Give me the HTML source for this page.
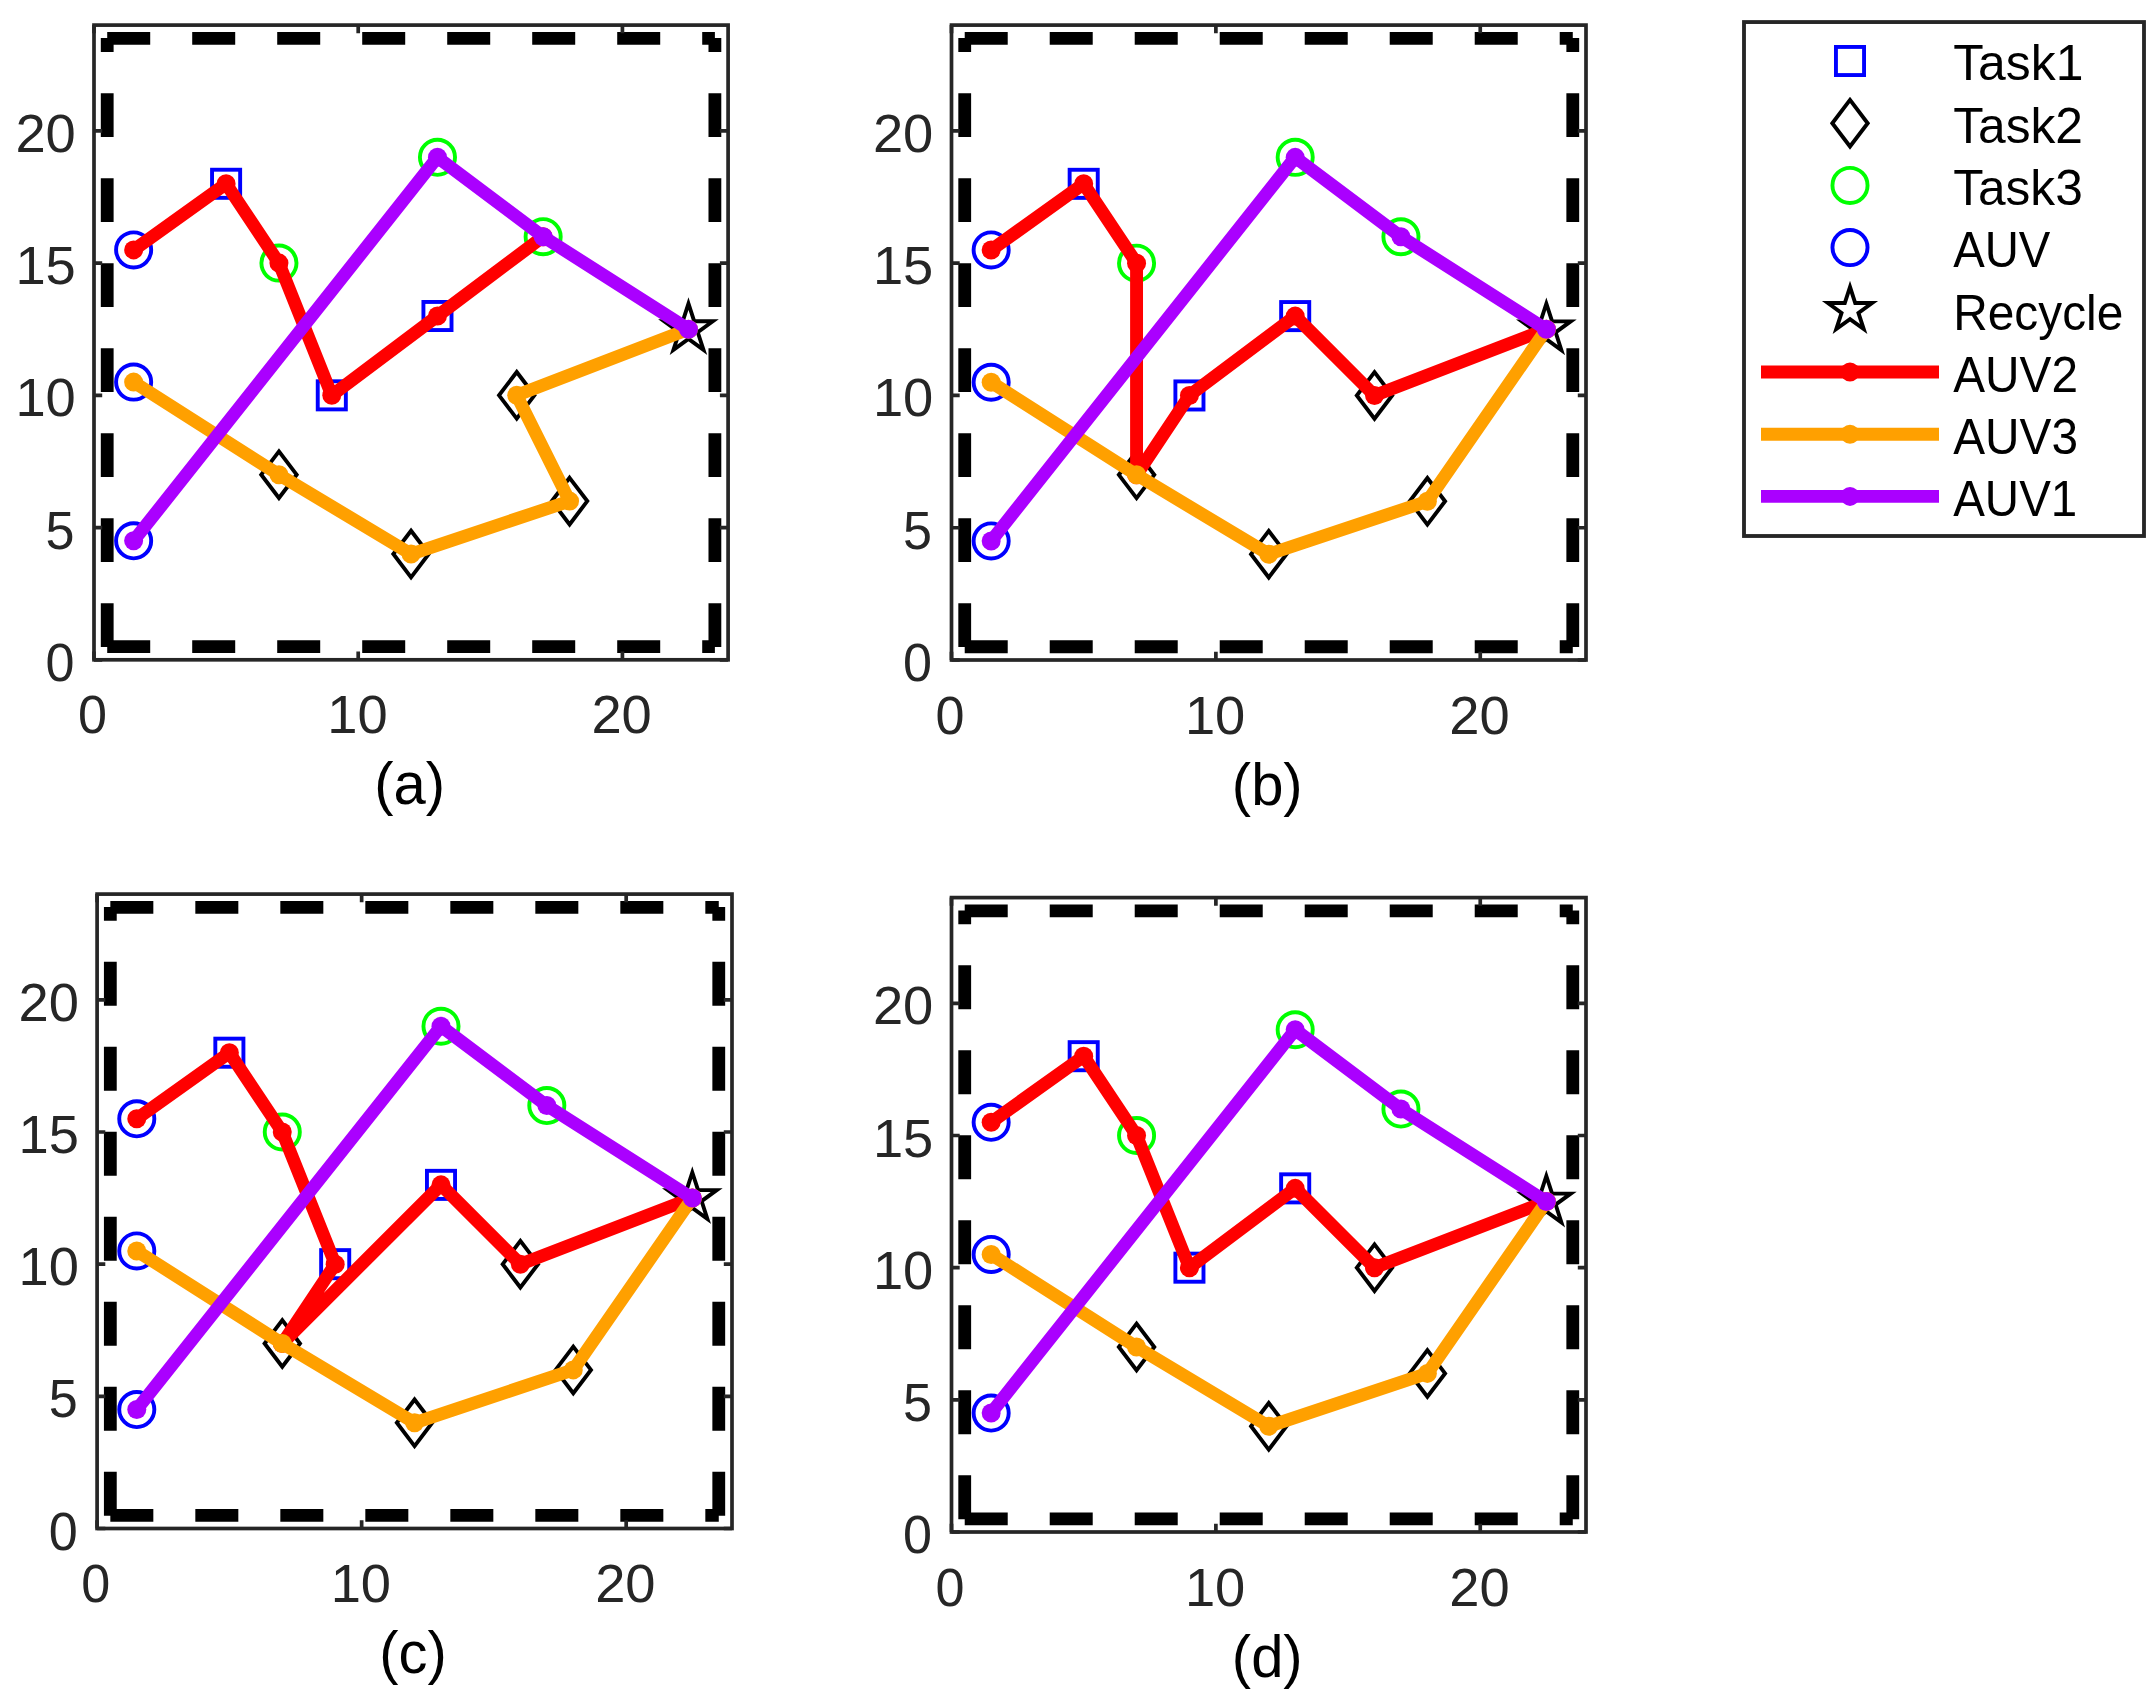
<!DOCTYPE html>
<html><head><meta charset="utf-8"><title>AUV task allocation</title>
<style>
html,body{margin:0;padding:0;background:#fff;}
body{width:2155px;height:1700px;overflow:hidden;}
svg{display:block;}
text{font-family:"Liberation Sans",Arial,Helvetica,sans-serif;font-size:54.3px;}
.t{fill:#262626;}
.l{fill:#000;font-size:50.3px;}
.x{fill:#000;font-size:58.85px;}
</style></head><body>
<svg width="2155" height="1700" viewBox="0 0 2155 1700">
<rect width="2155" height="1700" fill="#fff"/>
<g id="ax-a">
<path d="M107.21,38.32H714.89" stroke="#000" stroke-width="12.8" stroke-dasharray="43 42" fill="none"/>
<path d="M107.21,646.58H714.89" stroke="#000" stroke-width="12.8" stroke-dasharray="43 42" fill="none"/>
<path d="M107.21,646.93V38.02" stroke="#000" stroke-width="12.8" stroke-dasharray="43.8 41.2" fill="none"/>
<path d="M714.89,646.93V38.02" stroke="#000" stroke-width="12.8" stroke-dasharray="43.8 41.2" fill="none"/>
<rect x="212.05" y="169.73" width="28.1" height="28.1" fill="none" stroke="#0000ff" stroke-width="3.9"/>
<rect x="317.74" y="381.29" width="28.1" height="28.1" fill="none" stroke="#0000ff" stroke-width="3.9"/>
<rect x="423.42" y="301.95" width="28.1" height="28.1" fill="none" stroke="#0000ff" stroke-width="3.9"/>
<polygon points="278.95,451.38 296.65,474.68 278.95,497.98 261.25,474.68" fill="none" stroke="#000" stroke-width="3.9" stroke-linejoin="miter"/>
<polygon points="411.05,530.72 428.75,554.02 411.05,577.32 393.35,554.02" fill="none" stroke="#000" stroke-width="3.9" stroke-linejoin="miter"/>
<polygon points="516.73,372.04 534.43,395.34 516.73,418.64 499.03,395.34" fill="none" stroke="#000" stroke-width="3.9" stroke-linejoin="miter"/>
<polygon points="569.58,477.82 587.28,501.12 569.58,524.42 551.88,501.12" fill="none" stroke="#000" stroke-width="3.9" stroke-linejoin="miter"/>
<circle cx="278.95" cy="263.11" r="17.55" fill="none" stroke="#00ff00" stroke-width="3.9"/>
<circle cx="437.47" cy="157.33" r="17.55" fill="none" stroke="#00ff00" stroke-width="3.9"/>
<circle cx="543.15" cy="236.67" r="17.55" fill="none" stroke="#00ff00" stroke-width="3.9"/>
<circle cx="133.63" cy="249.89" r="17.55" fill="none" stroke="#0000ff" stroke-width="3.9"/>
<circle cx="133.63" cy="382.12" r="17.55" fill="none" stroke="#0000ff" stroke-width="3.9"/>
<circle cx="133.63" cy="540.79" r="17.55" fill="none" stroke="#0000ff" stroke-width="3.9"/>
<polygon points="688.47,303.63 694.22,321.32 712.82,321.32 697.77,332.25 703.52,349.94 688.47,339.01 673.42,349.94 679.17,332.25 664.12,321.32 682.72,321.32" fill="none" stroke="#000" stroke-width="3.9" stroke-linejoin="miter"/>
<path d="M133.63,249.89 L226.1,183.78 L278.95,263.11 L331.79,395.34 L437.47,316 L543.15,236.67" fill="none" stroke="#ff0000" stroke-width="12.9" stroke-linejoin="round" stroke-linecap="butt"/>
<g fill="#ff0000"><circle cx="133.63" cy="249.89" r="9.5"/><circle cx="226.1" cy="183.78" r="9.5"/><circle cx="278.95" cy="263.11" r="9.5"/><circle cx="331.79" cy="395.34" r="9.5"/><circle cx="437.47" cy="316" r="9.5"/><circle cx="543.15" cy="236.67" r="9.5"/></g>
<path d="M133.63,382.12 L278.95,474.68 L411.05,554.02 L569.58,501.12 L516.73,395.34 L688.47,329.23" fill="none" stroke="#ffa000" stroke-width="12.9" stroke-linejoin="round" stroke-linecap="butt"/>
<g fill="#ffa000"><circle cx="133.63" cy="382.12" r="9.5"/><circle cx="278.95" cy="474.68" r="9.5"/><circle cx="411.05" cy="554.02" r="9.5"/><circle cx="569.58" cy="501.12" r="9.5"/><circle cx="516.73" cy="395.34" r="9.5"/><circle cx="688.47" cy="329.23" r="9.5"/></g>
<path d="M133.63,540.79 L437.47,157.33 L543.15,236.67 L688.47,329.23" fill="none" stroke="#aa00ff" stroke-width="12.9" stroke-linejoin="round" stroke-linecap="butt"/>
<g fill="#aa00ff"><circle cx="133.63" cy="540.79" r="9.5"/><circle cx="437.47" cy="157.33" r="9.5"/><circle cx="543.15" cy="236.67" r="9.5"/><circle cx="688.47" cy="329.23" r="9.5"/></g>
<rect x="94" y="25.1" width="634.1" height="634.7" fill="none" stroke="#262626" stroke-width="3.7"/>
<path d="M94,659.8v-8.2M94,25.1v8.2M358.21,659.8v-8.2M358.21,25.1v8.2M622.42,659.8v-8.2M622.42,25.1v8.2M94,659.8h8.2M728.1,659.8h-8.2M94,527.57h8.2M728.1,527.57h-8.2M94,395.34h8.2M728.1,395.34h-8.2M94,263.11h8.2M728.1,263.11h-8.2M94,130.88h8.2M728.1,130.88h-8.2" stroke="#262626" stroke-width="3.7" fill="none"/>
<text class="t" transform="translate(92.6,733.3) scale(0.96,1)" text-anchor="middle">0</text>
<text class="t" x="357.41" y="733.3" text-anchor="middle">10</text>
<text class="t" x="621.62" y="733.3" text-anchor="middle">20</text>
<text class="t" transform="translate(74.6,680.8) scale(0.96,1)" text-anchor="end">0</text>
<text class="t" transform="translate(74.6,548.57) scale(0.96,1)" text-anchor="end">5</text>
<text class="t" x="75.8" y="416.34" text-anchor="end">10</text>
<text class="t" x="75.8" y="284.11" text-anchor="end">15</text>
<text class="t" x="75.8" y="151.88" text-anchor="end">20</text>
<text class="x" transform="translate(409.55,804.4) scale(0.985,1)" text-anchor="middle">(a)</text>
</g>
<g id="ax-b">
<path d="M964.72,38.33H1572.78" stroke="#000" stroke-width="12.8" stroke-dasharray="43 42" fill="none"/>
<path d="M964.72,646.77H1572.78" stroke="#000" stroke-width="12.8" stroke-dasharray="43 42" fill="none"/>
<path d="M964.72,647.12V38.03" stroke="#000" stroke-width="12.8" stroke-dasharray="43.8 41.2" fill="none"/>
<path d="M1572.78,647.12V38.03" stroke="#000" stroke-width="12.8" stroke-dasharray="43.8 41.2" fill="none"/>
<rect x="1069.64" y="169.78" width="28.1" height="28.1" fill="none" stroke="#0000ff" stroke-width="3.9"/>
<rect x="1175.39" y="381.41" width="28.1" height="28.1" fill="none" stroke="#0000ff" stroke-width="3.9"/>
<rect x="1281.14" y="302.05" width="28.1" height="28.1" fill="none" stroke="#0000ff" stroke-width="3.9"/>
<polygon points="1136.56,451.52 1154.26,474.82 1136.56,498.12 1118.86,474.82" fill="none" stroke="#000" stroke-width="3.9" stroke-linejoin="miter"/>
<polygon points="1268.75,530.88 1286.45,554.18 1268.75,577.48 1251.05,554.18" fill="none" stroke="#000" stroke-width="3.9" stroke-linejoin="miter"/>
<polygon points="1374.5,372.16 1392.2,395.46 1374.5,418.76 1356.8,395.46" fill="none" stroke="#000" stroke-width="3.9" stroke-linejoin="miter"/>
<polygon points="1427.38,477.97 1445.08,501.27 1427.38,524.57 1409.67,501.27" fill="none" stroke="#000" stroke-width="3.9" stroke-linejoin="miter"/>
<circle cx="1136.56" cy="263.19" r="17.55" fill="none" stroke="#00ff00" stroke-width="3.9"/>
<circle cx="1295.19" cy="157.37" r="17.55" fill="none" stroke="#00ff00" stroke-width="3.9"/>
<circle cx="1400.94" cy="236.73" r="17.55" fill="none" stroke="#00ff00" stroke-width="3.9"/>
<circle cx="991.16" cy="249.96" r="17.55" fill="none" stroke="#0000ff" stroke-width="3.9"/>
<circle cx="991.16" cy="382.23" r="17.55" fill="none" stroke="#0000ff" stroke-width="3.9"/>
<circle cx="991.16" cy="540.96" r="17.55" fill="none" stroke="#0000ff" stroke-width="3.9"/>
<polygon points="1546.34,303.72 1552.09,321.41 1570.69,321.41 1555.64,332.34 1561.39,350.03 1546.34,339.1 1531.3,350.03 1537.04,332.34 1522,321.41 1540.6,321.41" fill="none" stroke="#000" stroke-width="3.9" stroke-linejoin="miter"/>
<path d="M991.16,249.96 L1083.69,183.83 L1136.56,263.19 L1136.56,474.82 L1189.44,395.46 L1295.19,316.1 L1374.5,395.46 L1546.34,329.32" fill="none" stroke="#ff0000" stroke-width="12.9" stroke-linejoin="round" stroke-linecap="butt"/>
<g fill="#ff0000"><circle cx="991.16" cy="249.96" r="9.5"/><circle cx="1083.69" cy="183.83" r="9.5"/><circle cx="1136.56" cy="263.19" r="9.5"/><circle cx="1136.56" cy="474.82" r="9.5"/><circle cx="1189.44" cy="395.46" r="9.5"/><circle cx="1295.19" cy="316.1" r="9.5"/><circle cx="1374.5" cy="395.46" r="9.5"/><circle cx="1546.34" cy="329.32" r="9.5"/></g>
<path d="M991.16,382.23 L1136.56,474.82 L1268.75,554.18 L1427.38,501.27 L1546.34,329.32" fill="none" stroke="#ffa000" stroke-width="12.9" stroke-linejoin="round" stroke-linecap="butt"/>
<g fill="#ffa000"><circle cx="991.16" cy="382.23" r="9.5"/><circle cx="1136.56" cy="474.82" r="9.5"/><circle cx="1268.75" cy="554.18" r="9.5"/><circle cx="1427.38" cy="501.27" r="9.5"/><circle cx="1546.34" cy="329.32" r="9.5"/></g>
<path d="M991.16,540.96 L1295.19,157.37 L1400.94,236.73 L1546.34,329.32" fill="none" stroke="#aa00ff" stroke-width="12.9" stroke-linejoin="round" stroke-linecap="butt"/>
<g fill="#aa00ff"><circle cx="991.16" cy="540.96" r="9.5"/><circle cx="1295.19" cy="157.37" r="9.5"/><circle cx="1400.94" cy="236.73" r="9.5"/><circle cx="1546.34" cy="329.32" r="9.5"/></g>
<rect x="951.5" y="25.1" width="634.5" height="634.9" fill="none" stroke="#262626" stroke-width="3.7"/>
<path d="M951.5,660v-8.2M951.5,25.1v8.2M1215.88,660v-8.2M1215.88,25.1v8.2M1480.25,660v-8.2M1480.25,25.1v8.2M951.5,660h8.2M1586,660h-8.2M951.5,527.73h8.2M1586,527.73h-8.2M951.5,395.46h8.2M1586,395.46h-8.2M951.5,263.19h8.2M1586,263.19h-8.2M951.5,130.92h8.2M1586,130.92h-8.2" stroke="#262626" stroke-width="3.7" fill="none"/>
<text class="t" transform="translate(950.1,733.5) scale(0.96,1)" text-anchor="middle">0</text>
<text class="t" x="1215.08" y="733.5" text-anchor="middle">10</text>
<text class="t" x="1479.45" y="733.5" text-anchor="middle">20</text>
<text class="t" transform="translate(932.1,681) scale(0.96,1)" text-anchor="end">0</text>
<text class="t" transform="translate(932.1,548.73) scale(0.96,1)" text-anchor="end">5</text>
<text class="t" x="933.3" y="416.46" text-anchor="end">10</text>
<text class="t" x="933.3" y="284.19" text-anchor="end">15</text>
<text class="t" x="933.3" y="151.92" text-anchor="end">20</text>
<text class="x" transform="translate(1267.25,804.6) scale(0.985,1)" text-anchor="middle">(b)</text>
</g>
<g id="ax-c">
<path d="M110.33,907.32H718.77" stroke="#000" stroke-width="12.8" stroke-dasharray="43 42" fill="none"/>
<path d="M110.33,1515.28H718.77" stroke="#000" stroke-width="12.8" stroke-dasharray="43 42" fill="none"/>
<path d="M110.33,1515.63V907.02" stroke="#000" stroke-width="12.8" stroke-dasharray="43.8 41.2" fill="none"/>
<path d="M718.77,1515.63V907.02" stroke="#000" stroke-width="12.8" stroke-dasharray="43.8 41.2" fill="none"/>
<rect x="215.32" y="1038.65" width="28.1" height="28.1" fill="none" stroke="#0000ff" stroke-width="3.9"/>
<rect x="321.14" y="1250.12" width="28.1" height="28.1" fill="none" stroke="#0000ff" stroke-width="3.9"/>
<rect x="426.95" y="1170.82" width="28.1" height="28.1" fill="none" stroke="#0000ff" stroke-width="3.9"/>
<polygon points="282.28,1320.17 299.98,1343.47 282.28,1366.77 264.58,1343.47" fill="none" stroke="#000" stroke-width="3.9" stroke-linejoin="miter"/>
<polygon points="414.55,1399.47 432.25,1422.77 414.55,1446.07 396.85,1422.77" fill="none" stroke="#000" stroke-width="3.9" stroke-linejoin="miter"/>
<polygon points="520.37,1240.87 538.07,1264.17 520.37,1287.47 502.67,1264.17" fill="none" stroke="#000" stroke-width="3.9" stroke-linejoin="miter"/>
<polygon points="573.27,1346.6 590.98,1369.9 573.27,1393.2 555.57,1369.9" fill="none" stroke="#000" stroke-width="3.9" stroke-linejoin="miter"/>
<circle cx="282.28" cy="1132" r="17.55" fill="none" stroke="#00ff00" stroke-width="3.9"/>
<circle cx="441" cy="1026.27" r="17.55" fill="none" stroke="#00ff00" stroke-width="3.9"/>
<circle cx="546.82" cy="1105.57" r="17.55" fill="none" stroke="#00ff00" stroke-width="3.9"/>
<circle cx="136.78" cy="1118.78" r="17.55" fill="none" stroke="#0000ff" stroke-width="3.9"/>
<circle cx="136.78" cy="1250.95" r="17.55" fill="none" stroke="#0000ff" stroke-width="3.9"/>
<circle cx="136.78" cy="1409.55" r="17.55" fill="none" stroke="#0000ff" stroke-width="3.9"/>
<polygon points="692.32,1172.48 698.07,1190.17 716.67,1190.17 701.62,1201.11 707.37,1218.79 692.32,1207.86 677.27,1218.79 683.02,1201.11 667.97,1190.17 686.57,1190.17" fill="none" stroke="#000" stroke-width="3.9" stroke-linejoin="miter"/>
<path d="M136.78,1118.78 L229.37,1052.7 L282.28,1132 L335.19,1264.17 L282.28,1343.47 L441,1184.87 L520.37,1264.17 L692.32,1198.08" fill="none" stroke="#ff0000" stroke-width="12.9" stroke-linejoin="round" stroke-linecap="butt"/>
<g fill="#ff0000"><circle cx="136.78" cy="1118.78" r="9.5"/><circle cx="229.37" cy="1052.7" r="9.5"/><circle cx="282.28" cy="1132" r="9.5"/><circle cx="335.19" cy="1264.17" r="9.5"/><circle cx="282.28" cy="1343.47" r="9.5"/><circle cx="441" cy="1184.87" r="9.5"/><circle cx="520.37" cy="1264.17" r="9.5"/><circle cx="692.32" cy="1198.08" r="9.5"/></g>
<path d="M136.78,1250.95 L282.28,1343.47 L414.55,1422.77 L573.27,1369.9 L692.32,1198.08" fill="none" stroke="#ffa000" stroke-width="12.9" stroke-linejoin="round" stroke-linecap="butt"/>
<g fill="#ffa000"><circle cx="136.78" cy="1250.95" r="9.5"/><circle cx="282.28" cy="1343.47" r="9.5"/><circle cx="414.55" cy="1422.77" r="9.5"/><circle cx="573.27" cy="1369.9" r="9.5"/><circle cx="692.32" cy="1198.08" r="9.5"/></g>
<path d="M136.78,1409.55 L441,1026.27 L546.82,1105.57 L692.32,1198.08" fill="none" stroke="#aa00ff" stroke-width="12.9" stroke-linejoin="round" stroke-linecap="butt"/>
<g fill="#aa00ff"><circle cx="136.78" cy="1409.55" r="9.5"/><circle cx="441" cy="1026.27" r="9.5"/><circle cx="546.82" cy="1105.57" r="9.5"/><circle cx="692.32" cy="1198.08" r="9.5"/></g>
<rect x="97.1" y="894.1" width="634.9" height="634.4" fill="none" stroke="#262626" stroke-width="3.7"/>
<path d="M97.1,1528.5v-8.2M97.1,894.1v8.2M361.64,1528.5v-8.2M361.64,894.1v8.2M626.18,1528.5v-8.2M626.18,894.1v8.2M97.1,1528.5h8.2M732,1528.5h-8.2M97.1,1396.33h8.2M732,1396.33h-8.2M97.1,1264.17h8.2M732,1264.17h-8.2M97.1,1132h8.2M732,1132h-8.2M97.1,999.83h8.2M732,999.83h-8.2" stroke="#262626" stroke-width="3.7" fill="none"/>
<text class="t" transform="translate(95.7,1602) scale(0.96,1)" text-anchor="middle">0</text>
<text class="t" x="360.84" y="1602" text-anchor="middle">10</text>
<text class="t" x="625.38" y="1602" text-anchor="middle">20</text>
<text class="t" transform="translate(77.7,1549.5) scale(0.96,1)" text-anchor="end">0</text>
<text class="t" transform="translate(77.7,1417.33) scale(0.96,1)" text-anchor="end">5</text>
<text class="t" x="78.9" y="1285.17" text-anchor="end">10</text>
<text class="t" x="78.9" y="1153" text-anchor="end">15</text>
<text class="t" x="78.9" y="1020.83" text-anchor="end">20</text>
<text class="x" transform="translate(413.05,1673.1) scale(0.985,1)" text-anchor="middle">(c)</text>
</g>
<g id="ax-d">
<path d="M964.72,910.82H1572.78" stroke="#000" stroke-width="12.8" stroke-dasharray="43 42" fill="none"/>
<path d="M964.72,1518.78H1572.78" stroke="#000" stroke-width="12.8" stroke-dasharray="43 42" fill="none"/>
<path d="M964.72,1519.13V910.52" stroke="#000" stroke-width="12.8" stroke-dasharray="43.8 41.2" fill="none"/>
<path d="M1572.78,1519.13V910.52" stroke="#000" stroke-width="12.8" stroke-dasharray="43.8 41.2" fill="none"/>
<rect x="1069.64" y="1042.15" width="28.1" height="28.1" fill="none" stroke="#0000ff" stroke-width="3.9"/>
<rect x="1175.39" y="1253.62" width="28.1" height="28.1" fill="none" stroke="#0000ff" stroke-width="3.9"/>
<rect x="1281.14" y="1174.32" width="28.1" height="28.1" fill="none" stroke="#0000ff" stroke-width="3.9"/>
<polygon points="1136.56,1323.67 1154.26,1346.97 1136.56,1370.27 1118.86,1346.97" fill="none" stroke="#000" stroke-width="3.9" stroke-linejoin="miter"/>
<polygon points="1268.75,1402.97 1286.45,1426.27 1268.75,1449.57 1251.05,1426.27" fill="none" stroke="#000" stroke-width="3.9" stroke-linejoin="miter"/>
<polygon points="1374.5,1244.37 1392.2,1267.67 1374.5,1290.97 1356.8,1267.67" fill="none" stroke="#000" stroke-width="3.9" stroke-linejoin="miter"/>
<polygon points="1427.38,1350.1 1445.08,1373.4 1427.38,1396.7 1409.67,1373.4" fill="none" stroke="#000" stroke-width="3.9" stroke-linejoin="miter"/>
<circle cx="1136.56" cy="1135.5" r="17.55" fill="none" stroke="#00ff00" stroke-width="3.9"/>
<circle cx="1295.19" cy="1029.77" r="17.55" fill="none" stroke="#00ff00" stroke-width="3.9"/>
<circle cx="1400.94" cy="1109.07" r="17.55" fill="none" stroke="#00ff00" stroke-width="3.9"/>
<circle cx="991.16" cy="1122.28" r="17.55" fill="none" stroke="#0000ff" stroke-width="3.9"/>
<circle cx="991.16" cy="1254.45" r="17.55" fill="none" stroke="#0000ff" stroke-width="3.9"/>
<circle cx="991.16" cy="1413.05" r="17.55" fill="none" stroke="#0000ff" stroke-width="3.9"/>
<polygon points="1546.34,1175.98 1552.09,1193.67 1570.69,1193.67 1555.64,1204.61 1561.39,1222.29 1546.34,1211.36 1531.3,1222.29 1537.04,1204.61 1522,1193.67 1540.6,1193.67" fill="none" stroke="#000" stroke-width="3.9" stroke-linejoin="miter"/>
<path d="M991.16,1122.28 L1083.69,1056.2 L1136.56,1135.5 L1189.44,1267.67 L1295.19,1188.37 L1374.5,1267.67 L1546.34,1201.58" fill="none" stroke="#ff0000" stroke-width="12.9" stroke-linejoin="round" stroke-linecap="butt"/>
<g fill="#ff0000"><circle cx="991.16" cy="1122.28" r="9.5"/><circle cx="1083.69" cy="1056.2" r="9.5"/><circle cx="1136.56" cy="1135.5" r="9.5"/><circle cx="1189.44" cy="1267.67" r="9.5"/><circle cx="1295.19" cy="1188.37" r="9.5"/><circle cx="1374.5" cy="1267.67" r="9.5"/><circle cx="1546.34" cy="1201.58" r="9.5"/></g>
<path d="M991.16,1254.45 L1136.56,1346.97 L1268.75,1426.27 L1427.38,1373.4 L1546.34,1201.58" fill="none" stroke="#ffa000" stroke-width="12.9" stroke-linejoin="round" stroke-linecap="butt"/>
<g fill="#ffa000"><circle cx="991.16" cy="1254.45" r="9.5"/><circle cx="1136.56" cy="1346.97" r="9.5"/><circle cx="1268.75" cy="1426.27" r="9.5"/><circle cx="1427.38" cy="1373.4" r="9.5"/><circle cx="1546.34" cy="1201.58" r="9.5"/></g>
<path d="M991.16,1413.05 L1295.19,1029.77 L1400.94,1109.07 L1546.34,1201.58" fill="none" stroke="#aa00ff" stroke-width="12.9" stroke-linejoin="round" stroke-linecap="butt"/>
<g fill="#aa00ff"><circle cx="991.16" cy="1413.05" r="9.5"/><circle cx="1295.19" cy="1029.77" r="9.5"/><circle cx="1400.94" cy="1109.07" r="9.5"/><circle cx="1546.34" cy="1201.58" r="9.5"/></g>
<rect x="951.5" y="897.6" width="634.5" height="634.4" fill="none" stroke="#262626" stroke-width="3.7"/>
<path d="M951.5,1532v-8.2M951.5,897.6v8.2M1215.88,1532v-8.2M1215.88,897.6v8.2M1480.25,1532v-8.2M1480.25,897.6v8.2M951.5,1532h8.2M1586,1532h-8.2M951.5,1399.83h8.2M1586,1399.83h-8.2M951.5,1267.67h8.2M1586,1267.67h-8.2M951.5,1135.5h8.2M1586,1135.5h-8.2M951.5,1003.33h8.2M1586,1003.33h-8.2" stroke="#262626" stroke-width="3.7" fill="none"/>
<text class="t" transform="translate(950.1,1605.5) scale(0.96,1)" text-anchor="middle">0</text>
<text class="t" x="1215.08" y="1605.5" text-anchor="middle">10</text>
<text class="t" x="1479.45" y="1605.5" text-anchor="middle">20</text>
<text class="t" transform="translate(932.1,1553) scale(0.96,1)" text-anchor="end">0</text>
<text class="t" transform="translate(932.1,1420.83) scale(0.96,1)" text-anchor="end">5</text>
<text class="t" x="933.3" y="1288.67" text-anchor="end">10</text>
<text class="t" x="933.3" y="1156.5" text-anchor="end">15</text>
<text class="t" x="933.3" y="1024.33" text-anchor="end">20</text>
<text class="x" transform="translate(1267.25,1676.6) scale(0.985,1)" text-anchor="middle">(d)</text>
</g>
<g id="legend">
<rect x="1744" y="22.05" width="400" height="513.95" fill="#fff" stroke="#262626" stroke-width="3.85"/>
<rect x="1835.95" y="46.95" width="28.1" height="28.1" fill="none" stroke="#0000ff" stroke-width="3.9"/>
<text class="l" transform="translate(1953.2,80.0) scale(0.991,1)">Task1</text>
<polygon points="1850,99.9 1867.7,123.2 1850,146.5 1832.3,123.2" fill="none" stroke="#000" stroke-width="3.9" stroke-linejoin="miter"/>
<text class="l" transform="translate(1953.2,143.0) scale(0.988,1)">Task2</text>
<circle cx="1850" cy="185.4" r="17.55" fill="none" stroke="#00ff00" stroke-width="3.9"/>
<text class="l" transform="translate(1953.2,205.0) scale(0.986,1)">Task3</text>
<circle cx="1850" cy="247.6" r="17.55" fill="none" stroke="#0000ff" stroke-width="3.9"/>
<text class="l" transform="translate(1953.2,266.8) scale(0.94,1)">AUV</text>
<polygon points="1850,286.95 1855.22,303.01 1872.11,303.02 1858.45,312.94 1863.67,329.01 1850,319.08 1836.33,329.01 1841.55,312.94 1827.89,303.02 1844.78,303.01" fill="none" stroke="#000" stroke-width="3.9" stroke-linejoin="miter"/>
<text class="l" transform="translate(1953.2,329.8) scale(0.951,1)">Recycle</text>
<path d="M1761,372H1939" stroke="#ff0000" stroke-width="12.9" fill="none"/><circle cx="1850" cy="372" r="9.5" fill="#ff0000"/>
<text class="l" transform="translate(1953.2,391.8) scale(0.95,1)">AUV2</text>
<path d="M1761,434.2H1939" stroke="#ffa000" stroke-width="12.9" fill="none"/><circle cx="1850" cy="434.2" r="9.5" fill="#ffa000"/>
<text class="l" transform="translate(1953.2,453.8) scale(0.95,1)">AUV3</text>
<path d="M1761,496.4H1939" stroke="#aa00ff" stroke-width="12.9" fill="none"/><circle cx="1850" cy="496.4" r="9.5" fill="#aa00ff"/>
<text class="l" transform="translate(1953.2,516.0) scale(0.944,1)">AUV1</text>
</g>
</svg></body></html>
